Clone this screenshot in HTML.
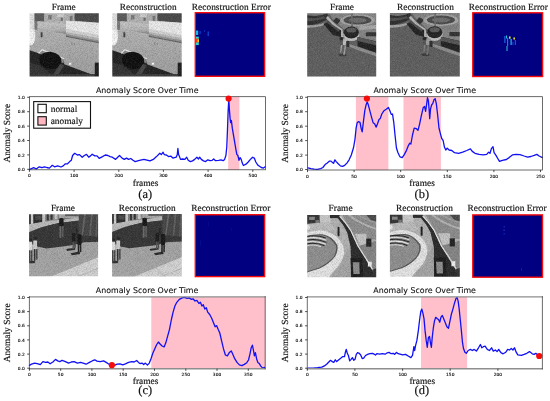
<!DOCTYPE html>
<html><head><meta charset="utf-8"><title>Anomaly score figure</title>
<style>html,body{margin:0;padding:0;background:#fff}svg{display:block}text{text-rendering:geometricPrecision;stroke:#111;stroke-width:1.6px}.s{font-family:'Liberation Serif','Times New Roman',serif;font-size:94px;fill:#111}.t{font-family:'DejaVu Sans','Liberation Sans',sans-serif;font-size:79px;fill:#111;stroke-width:1px}.k{font-family:'DejaVu Sans','Liberation Sans',sans-serif;font-size:44px;fill:#000;stroke-width:1.2px}.c{font-family:'Liberation Serif','Times New Roman',serif;font-size:125px;fill:#111}</style></head><body>
<svg width="550" height="401" viewBox="0 0 550 401">
<defs>
<filter id="soft" x="0" y="0" width="1" height="1"><feGaussianBlur stdDeviation="0.45"/></filter>
<filter id="soft2" x="0" y="0" width="1" height="1"><feGaussianBlur stdDeviation="0.7"/></filter>
<filter id="grain" x="0" y="0" width="1" height="1"><feTurbulence type="fractalNoise" baseFrequency="0.9" numOctaves="2" seed="3"/><feColorMatrix type="matrix" values="0 0 0 0 0  0 0 0 0 0  0 0 0 0 0  1.6 0 0 0 -0.55"/></filter>
<filter id="grainw" x="0" y="0" width="1" height="1"><feTurbulence type="fractalNoise" baseFrequency="0.8" numOctaves="2" seed="8"/><feColorMatrix type="matrix" values="0 0 0 0 1  0 0 0 0 1  0 0 0 0 1  1.6 0 0 0 -0.55"/></filter>
</defs>
<rect width="550" height="401" fill="#fff"/>
<text class="s" transform="translate(63.75,9.75) rotate(0.03) scale(0.1)" text-anchor="middle">Frame</text>
<text class="s" transform="translate(148.20,9.75) rotate(0.03) scale(0.1)" text-anchor="middle">Reconstruction</text>
<text class="s" transform="translate(231.40,9.75) rotate(0.03) scale(0.1)" text-anchor="middle">Reconstruction Error</text>
<clipPath id="cl29_13"><rect x="29.6" y="13.2" width="69.2" height="63.4"/></clipPath>
<g clip-path="url(#cl29_13)"><g transform="translate(29.6,13.2) scale(0.6920,0.6340)">
<g filter="url(#soft)">

<linearGradient id="ga" x1="0" y1="0" x2="0" y2="1"><stop offset="0.2" stop-color="#b6b6b6"/><stop offset="1" stop-color="#9e9e9e"/></linearGradient>
<rect x="-5" y="-5" width="110" height="110" fill="url(#ga)"/>
<rect x="-5" y="-5" width="13" height="45" fill="#e6e6e6"/>
<rect x="7" y="-5" width="15" height="18" fill="#5c5c5c"/>
<rect x="7" y="12" width="4.500" height="14" fill="#7a7a7a"/>
<rect x="21" y="-5" width="45" height="18.500" fill="#b4b4b4"/>
<rect x="27" y="3" width="5" height="7" fill="#7c7c7c"/><rect x="40" y="1" width="10" height="5" fill="#d0d0d0"/><rect x="45" y="7" width="3" height="5" fill="#6a6a6a"/><rect x="58" y="4" width="4" height="8" fill="#777"/>
<polygon points="65,-5 105,-5 105,15.500 65,12" fill="#4a4a4a"/>
<linearGradient id="wb" x1="0" y1="0" x2="0" y2="1"><stop offset="0" stop-color="#cccccc"/><stop offset="0.7" stop-color="#b4b4b4"/><stop offset="1" stop-color="#7c7c7c"/></linearGradient>
<polygon points="11.500,12.500 53,17 53,33 11.500,24.500" fill="url(#wb)"/>
<linearGradient id="wa" x1="0" y1="0" x2="0" y2="1"><stop offset="0" stop-color="#f0f0f0"/><stop offset="0.55" stop-color="#dadada"/><stop offset="0.85" stop-color="#999"/><stop offset="1" stop-color="#5e5e5e"/></linearGradient>
<polygon points="52.600,12 105,15.500 105,48 52.600,37" fill="#ececec"/><polygon points="52.600,25 105,35 105,48 52.600,37" fill="#000" opacity="0.1"/><polygon points="52.600,29.500 105,40 105,48 52.600,37" fill="#000" opacity="0.14"/><polygon points="52.600,33 105,44 105,48 52.600,37" fill="#000" opacity="0.2"/><polygon points="52.600,35.500 105,46.500 105,48.500 52.600,37.500" fill="#000" opacity="0.3"/>
<ellipse cx="2" cy="38" rx="6" ry="13" fill="#f6f6f6"/>
<rect x="16" y="30" width="2.600" height="8" fill="#3a3a3a"/>
<polygon points="-5,56.500 13,63 48,71.500 50,80.500 89,96.200 105,97 105,105 -5,105" fill="#222"/>
<polygon points="13,63 17.600,57 48,70 49,79" fill="#8c8c8c"/>
<polyline points="13,63.500 18,57.500 50,72" fill="none" stroke="#ececec" stroke-width="1.700"/>
<path d="M14,72 Q16,61 30,61 Q46,64 46,76 Q44,88 30,88 Q14,86 14,72Z" fill="#0a0a0a"/>
<polygon points="-5,76 14,82 36,100 -5,105" fill="#333"/>
<polygon points="44,80 50,82 40,100 32,100" fill="#444"/>
<rect x="-5" y="96" width="110" height="9" fill="#3a3a3a"/>
<rect x="57" y="78" width="3.200" height="3.200" fill="#fafafa"/>
<rect x="94.200" y="78" width="11" height="22" fill="#1c1c1c"/>
<rect x="60" y="46" width="2" height="4" fill="#8a8a8a"/><rect x="64" y="47" width="1.600" height="3" fill="#8a8a8a"/>

</g>
<rect x="0" y="0" width="100" height="100" filter="url(#grain)" opacity="0.2"/>
<rect x="0" y="0" width="100" height="100" filter="url(#grainw)" opacity="0.12"/>
</g></g>
<clipPath id="cl112_13"><rect x="112.3" y="13.2" width="69.4" height="63.4"/></clipPath>
<g clip-path="url(#cl112_13)"><g transform="translate(112.3,13.2) scale(0.6940,0.6340)">
<g filter="url(#soft2)">

<linearGradient id="ga" x1="0" y1="0" x2="0" y2="1"><stop offset="0.2" stop-color="#b6b6b6"/><stop offset="1" stop-color="#9e9e9e"/></linearGradient>
<rect x="-5" y="-5" width="110" height="110" fill="url(#ga)"/>
<rect x="-5" y="-5" width="13" height="45" fill="#e6e6e6"/>
<rect x="7" y="-5" width="15" height="18" fill="#5c5c5c"/>
<rect x="7" y="12" width="4.500" height="14" fill="#7a7a7a"/>
<rect x="21" y="-5" width="45" height="18.500" fill="#b4b4b4"/>
<rect x="27" y="3" width="5" height="7" fill="#7c7c7c"/><rect x="40" y="1" width="10" height="5" fill="#d0d0d0"/><rect x="45" y="7" width="3" height="5" fill="#6a6a6a"/><rect x="58" y="4" width="4" height="8" fill="#777"/>
<polygon points="65,-5 105,-5 105,15.500 65,12" fill="#4a4a4a"/>
<linearGradient id="wb" x1="0" y1="0" x2="0" y2="1"><stop offset="0" stop-color="#cccccc"/><stop offset="0.7" stop-color="#b4b4b4"/><stop offset="1" stop-color="#7c7c7c"/></linearGradient>
<polygon points="11.500,12.500 53,17 53,33 11.500,24.500" fill="url(#wb)"/>
<linearGradient id="wa" x1="0" y1="0" x2="0" y2="1"><stop offset="0" stop-color="#f0f0f0"/><stop offset="0.55" stop-color="#dadada"/><stop offset="0.85" stop-color="#999"/><stop offset="1" stop-color="#5e5e5e"/></linearGradient>
<polygon points="52.600,12 105,15.500 105,48 52.600,37" fill="#ececec"/><polygon points="52.600,25 105,35 105,48 52.600,37" fill="#000" opacity="0.1"/><polygon points="52.600,29.500 105,40 105,48 52.600,37" fill="#000" opacity="0.14"/><polygon points="52.600,33 105,44 105,48 52.600,37" fill="#000" opacity="0.2"/><polygon points="52.600,35.500 105,46.500 105,48.500 52.600,37.500" fill="#000" opacity="0.3"/>
<ellipse cx="2" cy="38" rx="6" ry="13" fill="#f6f6f6"/>
<rect x="16" y="30" width="2.600" height="8" fill="#3a3a3a"/>
<polygon points="-5,56.500 13,63 48,71.500 50,80.500 89,96.200 105,97 105,105 -5,105" fill="#222"/>
<polygon points="13,63 17.600,57 48,70 49,79" fill="#8c8c8c"/>
<polyline points="13,63.500 18,57.500 50,72" fill="none" stroke="#ececec" stroke-width="1.700"/>
<path d="M14,72 Q16,61 30,61 Q46,64 46,76 Q44,88 30,88 Q14,86 14,72Z" fill="#0a0a0a"/>
<polygon points="-5,76 14,82 36,100 -5,105" fill="#333"/>
<polygon points="44,80 50,82 40,100 32,100" fill="#444"/>
<rect x="-5" y="96" width="110" height="9" fill="#3a3a3a"/>
<rect x="57" y="78" width="3.200" height="3.200" fill="#fafafa"/>
<rect x="94.200" y="78" width="11" height="22" fill="#1c1c1c"/>
<rect x="60" y="46" width="2" height="4" fill="#8a8a8a"/><rect x="64" y="47" width="1.600" height="3" fill="#8a8a8a"/>

</g>
<rect x="0" y="0" width="100" height="100" filter="url(#grain)" opacity="0.2"/>
<rect x="0" y="0" width="100" height="100" filter="url(#grainw)" opacity="0.12"/>
</g></g>
<rect x="195.30" y="12.70" width="69.30" height="63.60" fill="#000080" stroke="#fa0a0a" stroke-width="1.4"/>
<g filter="url(#soft)"><rect x="196" y="30.5" width="2.2" height="4.5" fill="#19b8e6"/><rect x="195.8" y="36.6" width="3" height="8.5" fill="#29d9c8"/><rect x="196" y="38.5" width="2.4" height="4" fill="#ff3010"/><rect x="197.6" y="39.5" width="1.2" height="2.5" fill="#ffe020"/><rect x="199.5" y="31" width="1.2" height="3" fill="#1040d0"/><rect x="207.5" y="31.5" width="1.5" height="4.5" fill="#1038c8"/><rect x="204" y="30" width="1" height="2" fill="#0c28b0"/></g>
<rect x="29.4" y="96.7" width="236.1" height="73.10000000000001" fill="#fff"/>
<rect x="228.2" y="96.7" width="11.2" height="73.10000000000001" fill="#ffc0cb"/>
<polyline points="29.4,169.6 31.5,168.6 33.7,167.7 36.3,169.0 39.2,166.8 42.0,167.7 44.6,166.8 46.8,167.5 49.4,168.1 52.3,165.3 54.5,166.8 57.7,165.9 61.0,167.0 63.2,165.9 65.4,163.8 67.5,163.8 69.7,161.6 71.3,160.3 72.6,155.5 74.7,153.3 77.4,155.0 79.5,154.6 82.2,157.2 84.3,155.5 86.5,154.4 88.7,157.2 90.5,155.9 92.2,154.2 94.8,155.9 97.0,155.9 99.2,158.3 102.5,156.6 105.3,155.0 107.9,155.5 110.1,156.6 112.3,157.2 115.6,159.4 117.7,157.2 119.5,155.5 122.1,158.1 124.3,159.4 126.5,158.1 128.6,159.4 130.8,158.5 133.0,160.3 135.2,161.6 138.5,160.7 141.7,159.8 143.9,159.4 150.0,160.9 153.3,159.4 156.5,156.6 159.8,153.3 161.3,154.6 163.1,152.2 164.2,154.6 166.4,155.0 168.5,156.6 170.7,156.1 172.9,158.1 176.2,157.2 177.3,154.4 177.9,148.5 178.6,154.4 179.5,156.6 180.5,159.4 182.7,159.0 184.9,159.4 186.7,157.2 188.2,160.3 190.4,161.6 192.5,160.9 194.7,159.4 196.9,157.2 198.4,159.0 199.7,157.2 201.3,159.4 203.5,160.9 205.6,161.6 207.8,159.8 210.0,160.7 212.2,160.3 213.7,159.0 215.5,160.7 218.7,160.3 220.9,159.8 223.1,160.7 224.6,159.4 225.9,155.5 226.8,146.7 227.5,129.3 228.1,111.8 228.8,99.2 229.4,109.6 230.1,118.4 230.7,122.7 231.4,120.5 232.3,128.2 233.4,134.7 234.7,142.4 235.8,148.9 236.8,154.4 237.9,155.5 239.0,160.3 240.1,157.6 241.2,159.4 242.3,163.1 243.4,165.5 246.0,164.2 248.2,162.0 250.4,159.4 252.6,157.2 254.3,158.1 255.8,162.0 258.0,165.3 261.3,167.5 263.5,168.1 265.2,166.8" fill="none" stroke="#1010f5" stroke-width="1.3" stroke-linejoin="round" stroke-linecap="round"/>
<rect x="29.4" y="96.7" width="236.1" height="73.10000000000001" fill="none" stroke="#3a3a3a" stroke-width="0.75"/>
<line x1="27.2" y1="169.3" x2="29.4" y2="169.3" stroke="#222" stroke-width="0.8"/>
<text class="k" transform="translate(24.70,171.00) rotate(0.03) scale(0.1)" text-anchor="end">0.0</text>
<line x1="27.2" y1="154.9" x2="29.4" y2="154.9" stroke="#222" stroke-width="0.8"/>
<text class="k" transform="translate(24.70,156.60) rotate(0.03) scale(0.1)" text-anchor="end">0.2</text>
<line x1="27.2" y1="140.5" x2="29.4" y2="140.5" stroke="#222" stroke-width="0.8"/>
<text class="k" transform="translate(24.70,142.20) rotate(0.03) scale(0.1)" text-anchor="end">0.4</text>
<line x1="27.2" y1="126.1" x2="29.4" y2="126.1" stroke="#222" stroke-width="0.8"/>
<text class="k" transform="translate(24.70,127.80) rotate(0.03) scale(0.1)" text-anchor="end">0.6</text>
<line x1="27.2" y1="111.7" x2="29.4" y2="111.7" stroke="#222" stroke-width="0.8"/>
<text class="k" transform="translate(24.70,113.40) rotate(0.03) scale(0.1)" text-anchor="end">0.8</text>
<line x1="27.2" y1="97.3" x2="29.4" y2="97.3" stroke="#222" stroke-width="0.8"/>
<text class="k" transform="translate(24.70,99.00) rotate(0.03) scale(0.1)" text-anchor="end">1.0</text>
<line x1="29.4" y1="169.8" x2="29.4" y2="171.9" stroke="#222" stroke-width="0.8"/>
<text class="k" transform="translate(29.40,177.45) rotate(0.03) scale(0.1)" text-anchor="middle">0</text>
<line x1="74.1" y1="169.8" x2="74.1" y2="171.9" stroke="#222" stroke-width="0.8"/>
<text class="k" transform="translate(74.08,177.45) rotate(0.03) scale(0.1)" text-anchor="middle">100</text>
<line x1="118.8" y1="169.8" x2="118.8" y2="171.9" stroke="#222" stroke-width="0.8"/>
<text class="k" transform="translate(118.76,177.45) rotate(0.03) scale(0.1)" text-anchor="middle">200</text>
<line x1="163.4" y1="169.8" x2="163.4" y2="171.9" stroke="#222" stroke-width="0.8"/>
<text class="k" transform="translate(163.44,177.45) rotate(0.03) scale(0.1)" text-anchor="middle">300</text>
<line x1="208.1" y1="169.8" x2="208.1" y2="171.9" stroke="#222" stroke-width="0.8"/>
<text class="k" transform="translate(208.12,177.45) rotate(0.03) scale(0.1)" text-anchor="middle">400</text>
<line x1="252.8" y1="169.8" x2="252.8" y2="171.9" stroke="#222" stroke-width="0.8"/>
<text class="k" transform="translate(252.80,177.45) rotate(0.03) scale(0.1)" text-anchor="middle">500</text>
<text class="t" transform="translate(147.25,92.90) rotate(0.03) scale(0.1)" text-anchor="middle">Anomaly Score Over Time</text>
<text class="s" transform="translate(145.65,186.30) rotate(0.03) scale(0.1)" text-anchor="middle">frames</text>
<text class="c" transform="translate(145.20,197.70) rotate(0.03) scale(0.1)" text-anchor="middle">(a)</text>
<text class="s" transform="translate(10.00,133.25) rotate(-90) scale(0.1)" text-anchor="middle">Anomaly Score</text>
<rect x="33.7" y="101.6" width="56.8" height="26.6" fill="#fff" stroke="#111" stroke-width="1.1"/>
<rect x="37.9" y="104.3" width="8.4" height="8.4" fill="#fff" stroke="#111" stroke-width="1.1"/>
<rect x="37.9" y="116.7" width="8.4" height="8.4" fill="#ffb6c1" stroke="#111" stroke-width="1.1"/>
<text class="s" transform="translate(50.70,111.80) rotate(0.03) scale(0.1)" text-anchor="start">normal</text>
<text class="s" transform="translate(50.70,123.90) rotate(0.03) scale(0.1)" text-anchor="start">anomaly</text>
<circle cx="228.6" cy="98.6" r="3.1" fill="#f40c0c"/>
<text class="s" transform="translate(341.95,9.55) rotate(0.03) scale(0.1)" text-anchor="middle">Frame</text>
<text class="s" transform="translate(425.40,9.55) rotate(0.03) scale(0.1)" text-anchor="middle">Reconstruction</text>
<text class="s" transform="translate(508.40,9.55) rotate(0.03) scale(0.1)" text-anchor="middle">Reconstruction Error</text>
<clipPath id="cl307_13"><rect x="307.2" y="13.2" width="69" height="63.4"/></clipPath>
<g clip-path="url(#cl307_13)"><g transform="translate(307.2,13.2) scale(0.6900,0.6340)">
<g filter="url(#soft)">

<rect x="-5" y="-5" width="110" height="110" fill="#5e5e5e"/>
<polygon points="28,-5 105,-5 105,45 74,38 52,24 36,8" fill="#858585"/>
<polygon points="-5,-5 34,-5 30,6 -5,8" fill="#777"/>
<path d="M-5,2 Q15,8 29,0 L32,7 Q18,19 -5,19 Z" fill="#2e2e2e"/>
<path d="M-5,6 Q12,10 24,5 L26,8 Q12,14 -5,12 Z" fill="#505050"/>
<path d="M-5,19 Q14,20 25,15 L26,18 Q14,24 -5,23 Z" fill="#a4a4a4"/>
<polygon points="23.600,17 33,11 49,25 49,38 37,34" fill="#222"/>
<polygon points="23.600,17 33,11 49,25 45,29 29,15" fill="#505050"/>
<path d="M30,4 Q38,17 51,25 L53,38 L49,38 L49,27 Q36,19 27,8 Z" fill="#b6b6b6"/>
<rect x="39" y="8" width="8" height="8" rx="2" fill="#333" transform="rotate(35 43 12)"/>
<ellipse cx="73" cy="11" rx="25" ry="9.500" fill="#a6a6a6"/>
<ellipse cx="73" cy="11" rx="20" ry="7" fill="#4c4c4c"/>
<ellipse cx="73" cy="11" rx="13" ry="4" fill="#6c6c6c"/>
<path d="M74,21 L105,18 L105,24 L76,27 Z" fill="#a8a8a8"/>
<rect x="63.600" y="-5" width="2.400" height="28" fill="#6a6a6a"/>
<ellipse cx="64" cy="34" rx="11.500" ry="10" fill="#c6c6c6"/>
<ellipse cx="64" cy="30.500" rx="10.900" ry="9.500" fill="#202020"/>
<ellipse cx="64" cy="26.500" rx="7.500" ry="4" fill="#5a5a5a"/>
<rect x="85" y="30" width="20" height="6.500" rx="1.500" fill="#303030"/>
<polygon points="73,37.500 105,46 105,64 73,52" fill="#222"/>
<polygon points="73,37.500 105,46 105,52 73,44" fill="#555"/>
<path d="M57,47 L73,53 L105,65 L105,70 L73,58 L59,52 Z" fill="#8e8e8e"/>
<ellipse cx="51" cy="66" rx="6" ry="2" fill="#3c3c3c"/>
<rect x="51.500" y="40" width="7" height="10.500" rx="2" fill="#bdbdbd"/>
<rect x="56.500" y="44" width="4.500" height="9.500" rx="1" fill="#2e2e2e"/>
<ellipse cx="49.500" cy="40.500" rx="2.800" ry="3" fill="#262626"/>
<rect x="47" y="43" width="4" height="8" fill="#555"/>
<polygon points="48.800,50 51,50 49.300,62 47.600,62" fill="#a8a8a8"/>
<polygon points="54.300,51 56.600,51 54.300,66 52.300,66" fill="#a0a0a0"/>

</g>
<rect x="0" y="0" width="100" height="100" filter="url(#grain)" opacity="0.2"/>
<rect x="0" y="0" width="100" height="100" filter="url(#grainw)" opacity="0.12"/>
</g></g>
<clipPath id="cl389_13"><rect x="389.9" y="13" width="69.9" height="63.4"/></clipPath>
<g clip-path="url(#cl389_13)"><g transform="translate(389.9,13) scale(0.6990,0.6340)">
<g filter="url(#soft2)">

<rect x="-5" y="-5" width="110" height="110" fill="#5e5e5e"/>
<polygon points="28,-5 105,-5 105,45 74,38 52,24 36,8" fill="#858585"/>
<polygon points="-5,-5 34,-5 30,6 -5,8" fill="#777"/>
<path d="M-5,2 Q15,8 29,0 L32,7 Q18,19 -5,19 Z" fill="#2e2e2e"/>
<path d="M-5,6 Q12,10 24,5 L26,8 Q12,14 -5,12 Z" fill="#505050"/>
<path d="M-5,19 Q14,20 25,15 L26,18 Q14,24 -5,23 Z" fill="#a4a4a4"/>
<polygon points="23.600,17 33,11 49,25 49,38 37,34" fill="#222"/>
<polygon points="23.600,17 33,11 49,25 45,29 29,15" fill="#505050"/>
<path d="M30,4 Q38,17 51,25 L53,38 L49,38 L49,27 Q36,19 27,8 Z" fill="#b6b6b6"/>
<rect x="39" y="8" width="8" height="8" rx="2" fill="#333" transform="rotate(35 43 12)"/>
<ellipse cx="73" cy="11" rx="25" ry="9.500" fill="#a6a6a6"/>
<ellipse cx="73" cy="11" rx="20" ry="7" fill="#4c4c4c"/>
<ellipse cx="73" cy="11" rx="13" ry="4" fill="#6c6c6c"/>
<path d="M74,21 L105,18 L105,24 L76,27 Z" fill="#808080"/>
<rect x="63.600" y="-5" width="2.400" height="28" fill="#6a6a6a"/>
<ellipse cx="64" cy="34" rx="11.500" ry="10" fill="#c6c6c6"/>
<ellipse cx="64" cy="30.500" rx="10.900" ry="9.500" fill="#202020"/>
<ellipse cx="64" cy="26.500" rx="7.500" ry="4" fill="#5a5a5a"/>
<rect x="85" y="30" width="20" height="6.500" rx="1.500" fill="#303030"/>
<polygon points="73,37.500 105,46 105,64 73,52" fill="#222"/>
<polygon points="73,37.500 105,46 105,52 73,44" fill="#555"/>
<path d="M57,47 L73,53 L105,65 L105,70 L73,58 L59,52 Z" fill="#8e8e8e"/>
<ellipse cx="51" cy="66" rx="6" ry="2" fill="#3c3c3c"/>
<rect x="51.500" y="40" width="7" height="10.500" rx="2" fill="#9a9a9a"/>
<rect x="56.500" y="44" width="4.500" height="9.500" rx="1" fill="#2e2e2e"/>
<ellipse cx="49.500" cy="40.500" rx="2.800" ry="3" fill="#262626"/>
<rect x="47" y="43" width="4" height="8" fill="#555"/>
<polygon points="48.800,50 51,50 49.300,62 47.600,62" fill="#808080"/>
<polygon points="54.300,51 56.600,51 54.300,66 52.300,66" fill="#7a7a7a"/>

</g>
<rect x="0" y="0" width="100" height="100" filter="url(#grain)" opacity="0.2"/>
<rect x="0" y="0" width="100" height="100" filter="url(#grainw)" opacity="0.12"/>
</g></g>
<rect x="472.80" y="12.80" width="69.80" height="63.70" fill="#000080" stroke="#fa0a0a" stroke-width="1.4"/>
<g filter="url(#soft)"><rect x="504.3" y="36" width="1.2" height="7" fill="#1a6ae0"/><rect x="506" y="35.5" width="1" height="3" fill="#20c0e0"/><rect x="507" y="38" width="1.2" height="8" fill="#1a78e8"/><rect x="509" y="36.5" width="1.6" height="2.2" fill="#d8e830"/><rect x="510.5" y="39" width="1.2" height="6" fill="#28b8e0"/><rect x="513.4" y="37.5" width="1.6" height="2" fill="#e8e020"/><rect x="514.8" y="40" width="1" height="5" fill="#1a68e0"/><rect x="506.5" y="46" width="1" height="5" fill="#30c8d0"/><rect x="512.5" y="42" width="0.9" height="3" fill="#1850d0"/></g>
<rect x="307.4" y="96.7" width="235.0" height="73.3" fill="#fff"/>
<rect x="355.9" y="96.7" width="32.5" height="73.3" fill="#ffc0cb"/>
<rect x="403.5" y="96.7" width="37.4" height="73.3" fill="#ffc0cb"/>
<polyline points="307.9,167.9 310.9,168.6 314.2,169.2 317.5,169.4 320.7,168.6 322.9,167.5 325.1,164.6 327.3,162.9 329.5,161.1 331.0,161.1 332.3,162.4 333.6,163.3 334.9,159.8 336.2,161.6 338.2,163.8 340.4,165.9 342.5,166.4 344.7,165.3 346.9,163.1 349.1,159.8 351.3,155.0 353.5,147.8 355.0,139.1 356.1,128.2 357.2,122.7 358.5,121.6 360.0,122.3 361.1,128.2 362.2,131.9 363.3,122.7 364.8,110.7 366.1,104.8 367.2,102.0 368.3,104.8 369.8,110.7 371.6,117.3 373.1,122.7 374.6,123.8 376.2,127.1 377.5,123.8 379.0,119.5 380.3,118.4 381.8,114.0 384.0,110.7 386.2,109.2 388.4,107.5 389.9,110.7 391.2,114.4 392.5,114.0 393.8,122.7 395.1,135.8 396.4,147.8 397.8,152.2 399.3,155.5 400.0,156.8 402.2,157.6 404.1,154.9 406.0,151.4 408.2,145.9 409.8,143.2 410.9,144.0 412.5,135.0 414.2,128.2 416.4,128.7 418.0,130.4 419.6,124.1 421.3,115.9 423.2,107.7 424.5,106.4 425.6,111.3 426.7,103.6 427.5,97.6 428.4,100.9 429.2,110.5 429.7,118.6 430.5,109.1 431.6,105.0 432.7,103.6 434.1,99.5 435.2,98.7 436.3,103.6 437.6,114.5 439.0,128.2 440.4,133.6 441.7,138.5 443.1,140.4 444.5,147.3 445.8,150.0 447.2,148.1 449.1,150.0 451.8,150.5 454.5,152.7 458.6,153.3 462.7,152.2 466.8,150.5 470.4,148.9 472.3,151.4 475.0,153.3 479.1,154.4 483.2,154.9 486.7,154.4 488.6,152.2 490.0,153.3 491.4,148.6 493.0,146.7 494.1,152.7 496.0,155.4 497.6,158.2 499.5,161.4 502.3,160.4 506.4,159.5 509.1,157.6 512.4,154.9 515.9,154.4 520.0,154.6 524.1,156.0 527.6,157.1 530.9,156.5 534.2,155.4 536.9,154.4 539.1,156.0 542.4,157.6" fill="none" stroke="#1010f5" stroke-width="1.3" stroke-linejoin="round" stroke-linecap="round"/>
<rect x="307.4" y="96.7" width="235.0" height="73.3" fill="none" stroke="#3a3a3a" stroke-width="0.75"/>
<line x1="305.2" y1="169.5" x2="307.4" y2="169.5" stroke="#222" stroke-width="0.8"/>
<text class="k" transform="translate(302.70,171.20) rotate(0.03) scale(0.1)" text-anchor="end">0.0</text>
<line x1="305.2" y1="155.1" x2="307.4" y2="155.1" stroke="#222" stroke-width="0.8"/>
<text class="k" transform="translate(302.70,156.76) rotate(0.03) scale(0.1)" text-anchor="end">0.2</text>
<line x1="305.2" y1="140.6" x2="307.4" y2="140.6" stroke="#222" stroke-width="0.8"/>
<text class="k" transform="translate(302.70,142.32) rotate(0.03) scale(0.1)" text-anchor="end">0.4</text>
<line x1="305.2" y1="126.2" x2="307.4" y2="126.2" stroke="#222" stroke-width="0.8"/>
<text class="k" transform="translate(302.70,127.88) rotate(0.03) scale(0.1)" text-anchor="end">0.6</text>
<line x1="305.2" y1="111.7" x2="307.4" y2="111.7" stroke="#222" stroke-width="0.8"/>
<text class="k" transform="translate(302.70,113.44) rotate(0.03) scale(0.1)" text-anchor="end">0.8</text>
<line x1="305.2" y1="97.3" x2="307.4" y2="97.3" stroke="#222" stroke-width="0.8"/>
<text class="k" transform="translate(302.70,99.00) rotate(0.03) scale(0.1)" text-anchor="end">1.0</text>
<line x1="307.5" y1="170.0" x2="307.5" y2="172.1" stroke="#222" stroke-width="0.8"/>
<text class="k" transform="translate(307.50,177.65) rotate(0.03) scale(0.1)" text-anchor="middle">0</text>
<line x1="354.1" y1="170.0" x2="354.1" y2="172.1" stroke="#222" stroke-width="0.8"/>
<text class="k" transform="translate(354.10,177.65) rotate(0.03) scale(0.1)" text-anchor="middle">50</text>
<line x1="400.7" y1="170.0" x2="400.7" y2="172.1" stroke="#222" stroke-width="0.8"/>
<text class="k" transform="translate(400.70,177.65) rotate(0.03) scale(0.1)" text-anchor="middle">100</text>
<line x1="447.3" y1="170.0" x2="447.3" y2="172.1" stroke="#222" stroke-width="0.8"/>
<text class="k" transform="translate(447.30,177.65) rotate(0.03) scale(0.1)" text-anchor="middle">150</text>
<line x1="493.9" y1="170.0" x2="493.9" y2="172.1" stroke="#222" stroke-width="0.8"/>
<text class="k" transform="translate(493.90,177.65) rotate(0.03) scale(0.1)" text-anchor="middle">200</text>
<line x1="540.5" y1="170.0" x2="540.5" y2="172.1" stroke="#222" stroke-width="0.8"/>
<text class="k" transform="translate(540.50,177.65) rotate(0.03) scale(0.1)" text-anchor="middle">250</text>
<text class="t" transform="translate(424.70,92.90) rotate(0.03) scale(0.1)" text-anchor="middle">Anomaly Score Over Time</text>
<text class="s" transform="translate(422.05,186.30) rotate(0.03) scale(0.1)" text-anchor="middle">frames</text>
<text class="c" transform="translate(421.80,197.70) rotate(0.03) scale(0.1)" text-anchor="middle">(b)</text>
<text class="s" transform="translate(288.00,133.35) rotate(-90) scale(0.1)" text-anchor="middle">Anomaly Score</text>
<circle cx="366.9" cy="98.6" r="3.1" fill="#f40c0c"/>
<text class="s" transform="translate(62.90,211.45) rotate(0.03) scale(0.1)" text-anchor="middle">Frame</text>
<text class="s" transform="translate(147.30,211.45) rotate(0.03) scale(0.1)" text-anchor="middle">Reconstruction</text>
<text class="s" transform="translate(230.80,211.45) rotate(0.03) scale(0.1)" text-anchor="middle">Reconstruction Error</text>
<clipPath id="cl29_214"><rect x="29.1" y="214.3" width="69" height="62"/></clipPath>
<g clip-path="url(#cl29_214)"><g transform="translate(29.1,214.3) scale(0.6900,0.6200)">
<g filter="url(#soft)">

<rect x="-5" y="-5" width="110" height="110" fill="#a6a6a6"/>
<rect x="-5" y="-5" width="80" height="24" fill="#2a2a2a"/>
<rect x="2.500" y="-5" width="3.500" height="24" fill="#d4d4d4"/>
<rect x="9" y="2" width="9" height="7" fill="#4a4a4a"/>
<rect x="19" y="-5" width="4" height="20" fill="#cfcfcf"/>
<rect x="23" y="-5" width="20" height="17" fill="#8c8c8c"/>
<rect x="25.500" y="-5" width="3" height="15" fill="#333"/><rect x="31" y="-5" width="3" height="14" fill="#333"/><rect x="37" y="-5" width="4" height="13" fill="#c8c8c8"/>
<rect x="43" y="-5" width="30" height="12" fill="#a8a8a8"/>
<rect x="52" y="-5" width="20" height="8" fill="#5a5a5a"/>
<polygon points="-5,17 20,12 42,9 73,5 73,11 43,14 18,21 -5,31" fill="#bcbcbc"/>
<polygon points="-5,31 18,21 43,14 72,10 105,10 105,44 80,45 62,50 40,53 25,55 12,52 -5,44" fill="#363636"/>
<polygon points="72,-5 105,-5 105,36 72,34" fill="#444"/>
<polygon points="80,-5 83,-5 78,34 76,34" fill="#666"/><polygon points="90,-5 93,-5 89,35 87,35" fill="#606060"/><polygon points="98,-5 100,-5 98,36 96,36" fill="#5a5a5a"/>
<polygon points="22,105 105,67 105,105" fill="#d4d4d4"/>
<polyline points="60,105 105,85" fill="none" stroke="#b2b2b2" stroke-width="1"/><polyline points="62,84 78,105" fill="none" stroke="#b6b6b6" stroke-width="1"/>
<ellipse cx="3" cy="77" rx="6" ry="2" fill="#2e2e2e"/>
<rect x="-1" y="44" width="5.500" height="15" rx="2" fill="#e0e0e0"/><rect x="6" y="42" width="5.500" height="15" rx="2" fill="#d0d0d0"/>
<rect x="0" y="38" width="4" height="6" rx="2" fill="#262626"/><rect x="7" y="36" width="4" height="6" rx="2" fill="#262626"/>
<rect x="-0.500" y="58" width="2.200" height="19" fill="#333"/><rect x="2.500" y="58" width="2.200" height="18" fill="#444"/><rect x="7" y="56" width="2.200" height="19" fill="#333"/><rect x="10" y="56" width="2.200" height="17" fill="#4a4a4a"/>
<rect x="43.500" y="6" width="6.500" height="14" rx="2.500" fill="#181818"/>
<rect x="44" y="19" width="2.600" height="19" fill="#6a6a6a"/><rect x="47.500" y="19" width="2.600" height="18" fill="#5a5a5a"/>
<polygon points="54,56 66,54 67,57 55,59" fill="#2a2a2a"/><polygon points="60,63 73,60 74,64 62,66" fill="#2a2a2a"/>
<rect x="62" y="30" width="5.500" height="15" rx="2" fill="#1e1e1e"/><rect x="63" y="44" width="2" height="12" fill="#555"/><rect x="65.500" y="44" width="2" height="11" fill="#444"/>
<rect x="70" y="32" width="6" height="18" rx="2" fill="#181818"/><rect x="70.500" y="49" width="2.200" height="13" fill="#222"/><rect x="73.500" y="49" width="2.200" height="12" fill="#222"/>
<rect x="67.500" y="22" width="2.500" height="11" fill="#262626"/>

</g>
<rect x="0" y="0" width="100" height="100" filter="url(#grain)" opacity="0.2"/>
<rect x="0" y="0" width="100" height="100" filter="url(#grainw)" opacity="0.12"/>
</g></g>
<clipPath id="cl112_214"><rect x="112.1" y="214" width="69.7" height="62.4"/></clipPath>
<g clip-path="url(#cl112_214)"><g transform="translate(112.1,214) scale(0.6970,0.6240)">
<g filter="url(#soft2)">

<rect x="-5" y="-5" width="110" height="110" fill="#a6a6a6"/>
<rect x="-5" y="-5" width="80" height="24" fill="#2a2a2a"/>
<rect x="2.500" y="-5" width="3.500" height="24" fill="#d4d4d4"/>
<rect x="9" y="2" width="9" height="7" fill="#4a4a4a"/>
<rect x="19" y="-5" width="4" height="20" fill="#cfcfcf"/>
<rect x="23" y="-5" width="20" height="17" fill="#8c8c8c"/>
<rect x="25.500" y="-5" width="3" height="15" fill="#333"/><rect x="31" y="-5" width="3" height="14" fill="#333"/><rect x="37" y="-5" width="4" height="13" fill="#c8c8c8"/>
<rect x="43" y="-5" width="30" height="12" fill="#a8a8a8"/>
<rect x="52" y="-5" width="20" height="8" fill="#5a5a5a"/>
<polygon points="-5,17 20,12 42,9 73,5 73,11 43,14 18,21 -5,31" fill="#bcbcbc"/>
<polygon points="-5,31 18,21 43,14 72,10 105,10 105,44 80,45 62,50 40,53 25,55 12,52 -5,44" fill="#363636"/>
<polygon points="72,-5 105,-5 105,36 72,34" fill="#444"/>
<polygon points="80,-5 83,-5 78,34 76,34" fill="#666"/><polygon points="90,-5 93,-5 89,35 87,35" fill="#606060"/><polygon points="98,-5 100,-5 98,36 96,36" fill="#5a5a5a"/>
<polygon points="22,105 105,67 105,105" fill="#d4d4d4"/>
<polyline points="60,105 105,85" fill="none" stroke="#b2b2b2" stroke-width="1"/><polyline points="62,84 78,105" fill="none" stroke="#b6b6b6" stroke-width="1"/>
<ellipse cx="3" cy="77" rx="6" ry="2" fill="#2e2e2e"/>
<rect x="-1" y="44" width="5.500" height="15" rx="2" fill="#e0e0e0"/><rect x="6" y="42" width="5.500" height="15" rx="2" fill="#d0d0d0"/>
<rect x="0" y="38" width="4" height="6" rx="2" fill="#262626"/><rect x="7" y="36" width="4" height="6" rx="2" fill="#262626"/>
<rect x="-0.500" y="58" width="2.200" height="19" fill="#333"/><rect x="2.500" y="58" width="2.200" height="18" fill="#444"/><rect x="7" y="56" width="2.200" height="19" fill="#333"/><rect x="10" y="56" width="2.200" height="17" fill="#4a4a4a"/>
<rect x="43.500" y="6" width="6.500" height="14" rx="2.500" fill="#181818"/>
<rect x="44" y="19" width="2.600" height="19" fill="#6a6a6a"/><rect x="47.500" y="19" width="2.600" height="18" fill="#5a5a5a"/>
<polygon points="54,56 66,54 67,57 55,59" fill="#2a2a2a"/><polygon points="60,63 73,60 74,64 62,66" fill="#2a2a2a"/>
<rect x="62" y="30" width="5.500" height="15" rx="2" fill="#1e1e1e"/><rect x="63" y="44" width="2" height="12" fill="#555"/><rect x="65.500" y="44" width="2" height="11" fill="#444"/>
<rect x="70" y="32" width="6" height="18" rx="2" fill="#181818"/><rect x="70.500" y="49" width="2.200" height="13" fill="#222"/><rect x="73.500" y="49" width="2.200" height="12" fill="#222"/>
<rect x="67.500" y="22" width="2.500" height="11" fill="#262626"/>

</g>
<rect x="0" y="0" width="100" height="100" filter="url(#grain)" opacity="0.2"/>
<rect x="0" y="0" width="100" height="100" filter="url(#grainw)" opacity="0.12"/>
</g></g>
<rect x="195.30" y="214.70" width="69.30" height="61.90" fill="#000080" stroke="#fa0a0a" stroke-width="1.4"/>
<g opacity="0.5"><rect x="208" y="222" width="0.8" height="4" fill="#0a1aa8"/><rect x="231" y="228" width="0.8" height="3" fill="#0a1aa8"/><rect x="200" y="240" width="0.8" height="6" fill="#0a18a0"/></g>
<rect x="29.4" y="296.9" width="235.79999999999998" height="71.80000000000001" fill="#fff"/>
<rect x="151.3" y="296.9" width="114.0" height="71.80000000000001" fill="#ffc0cb"/>
<polyline points="29.4,365.3 31.5,364.2 34.8,363.1 38.1,363.8 40.3,364.6 42.9,361.6 45.7,362.4 47.9,362.0 50.1,363.8 52.9,362.0 55.5,359.4 57.7,360.9 59.9,361.6 62.1,360.3 65.4,361.6 68.6,363.1 71.3,362.0 74.1,361.6 77.4,363.1 80.6,362.4 83.9,363.3 86.1,364.2 89.4,362.4 92.6,360.7 94.8,359.8 97.0,361.1 100.3,361.6 103.6,360.9 106.2,362.4 109.0,364.2 111.8,365.3 114.5,365.3 117.1,364.2 119.9,363.8 122.8,364.8 125.4,363.8 128.6,362.4 131.9,361.6 134.1,362.0 136.7,360.5 138.5,362.4 140.0,363.6 142.0,363.1 143.7,364.6 145.4,363.1 147.4,365.1 149.3,363.1 151.0,358.7 152.8,353.3 154.7,348.9 156.7,344.5 158.4,342.0 160.1,344.0 162.1,346.0 164.1,346.9 165.8,342.8 167.5,336.6 169.5,329.3 171.4,319.5 173.1,312.1 174.9,306.0 176.8,302.3 179.3,299.3 182.2,297.9 184.7,297.4 187.1,298.3 189.1,297.9 191.1,299.3 193.0,298.8 195.0,301.0 196.9,300.3 198.9,303.5 200.4,302.3 201.9,306.0 203.3,304.7 204.8,309.1 206.3,307.7 207.7,312.1 209.7,314.5 211.7,318.2 213.6,323.1 215.1,326.8 216.6,325.6 218.1,329.3 219.8,333.0 221.5,340.3 223.5,348.9 225.4,355.0 227.4,355.8 229.3,352.6 231.3,350.9 232.8,354.3 234.7,358.7 237.0,362.4 239.4,364.9 241.9,365.6 244.3,364.4 246.8,362.7 248.5,360.0 250.0,353.8 251.2,347.7 252.4,345.2 253.4,350.1 254.4,355.8 255.4,352.6 256.6,358.7 257.8,362.4 259.3,363.6 260.8,366.1 262.7,368.1 264.7,367.3" fill="none" stroke="#1010f5" stroke-width="1.3" stroke-linejoin="round" stroke-linecap="round"/>
<path d="M29.0,296.9H265.59999999999997M29.0,368.7H265.59999999999997" fill="none" stroke="#8e8e8e" stroke-width="1.4"/>
<path d="M29.4,296.2V369.4M265.2,296.2V369.4" fill="none" stroke="#3a3a3a" stroke-width="0.75"/>
<line x1="27.2" y1="368.2" x2="29.4" y2="368.2" stroke="#222" stroke-width="0.8"/>
<text class="k" transform="translate(24.70,369.90) rotate(0.03) scale(0.1)" text-anchor="end">0.0</text>
<line x1="27.2" y1="354.1" x2="29.4" y2="354.1" stroke="#222" stroke-width="0.8"/>
<text class="k" transform="translate(24.70,355.76) rotate(0.03) scale(0.1)" text-anchor="end">0.2</text>
<line x1="27.2" y1="339.9" x2="29.4" y2="339.9" stroke="#222" stroke-width="0.8"/>
<text class="k" transform="translate(24.70,341.62) rotate(0.03) scale(0.1)" text-anchor="end">0.4</text>
<line x1="27.2" y1="325.8" x2="29.4" y2="325.8" stroke="#222" stroke-width="0.8"/>
<text class="k" transform="translate(24.70,327.48) rotate(0.03) scale(0.1)" text-anchor="end">0.6</text>
<line x1="27.2" y1="311.6" x2="29.4" y2="311.6" stroke="#222" stroke-width="0.8"/>
<text class="k" transform="translate(24.70,313.34) rotate(0.03) scale(0.1)" text-anchor="end">0.8</text>
<line x1="27.2" y1="297.5" x2="29.4" y2="297.5" stroke="#222" stroke-width="0.8"/>
<text class="k" transform="translate(24.70,299.20) rotate(0.03) scale(0.1)" text-anchor="end">1.0</text>
<line x1="29.4" y1="368.7" x2="29.4" y2="370.8" stroke="#222" stroke-width="0.8"/>
<text class="k" transform="translate(29.40,376.35) rotate(0.03) scale(0.1)" text-anchor="middle">0</text>
<line x1="60.7" y1="368.7" x2="60.7" y2="370.8" stroke="#222" stroke-width="0.8"/>
<text class="k" transform="translate(60.67,376.35) rotate(0.03) scale(0.1)" text-anchor="middle">50</text>
<line x1="91.9" y1="368.7" x2="91.9" y2="370.8" stroke="#222" stroke-width="0.8"/>
<text class="k" transform="translate(91.95,376.35) rotate(0.03) scale(0.1)" text-anchor="middle">100</text>
<line x1="123.2" y1="368.7" x2="123.2" y2="370.8" stroke="#222" stroke-width="0.8"/>
<text class="k" transform="translate(123.22,376.35) rotate(0.03) scale(0.1)" text-anchor="middle">150</text>
<line x1="154.5" y1="368.7" x2="154.5" y2="370.8" stroke="#222" stroke-width="0.8"/>
<text class="k" transform="translate(154.50,376.35) rotate(0.03) scale(0.1)" text-anchor="middle">200</text>
<line x1="185.8" y1="368.7" x2="185.8" y2="370.8" stroke="#222" stroke-width="0.8"/>
<text class="k" transform="translate(185.78,376.35) rotate(0.03) scale(0.1)" text-anchor="middle">250</text>
<line x1="217.0" y1="368.7" x2="217.0" y2="370.8" stroke="#222" stroke-width="0.8"/>
<text class="k" transform="translate(217.05,376.35) rotate(0.03) scale(0.1)" text-anchor="middle">300</text>
<line x1="248.3" y1="368.7" x2="248.3" y2="370.8" stroke="#222" stroke-width="0.8"/>
<text class="k" transform="translate(248.32,376.35) rotate(0.03) scale(0.1)" text-anchor="middle">350</text>
<text class="t" transform="translate(147.10,292.85) rotate(0.03) scale(0.1)" text-anchor="middle">Anomaly Score Over Time</text>
<text class="s" transform="translate(145.65,384.00) rotate(0.03) scale(0.1)" text-anchor="middle">frames</text>
<text class="c" transform="translate(145.30,394.20) rotate(0.03) scale(0.1)" text-anchor="middle">(c)</text>
<text class="s" transform="translate(10.00,332.80) rotate(-90) scale(0.1)" text-anchor="middle">Anomaly Score</text>
<circle cx="111.9" cy="365.2" r="3.1" fill="#f40c0c"/>
<text class="s" transform="translate(340.55,210.85) rotate(0.03) scale(0.1)" text-anchor="middle">Frame</text>
<text class="s" transform="translate(424.50,210.85) rotate(0.03) scale(0.1)" text-anchor="middle">Reconstruction</text>
<text class="s" transform="translate(507.10,210.85) rotate(0.03) scale(0.1)" text-anchor="middle">Reconstruction Error</text>
<clipPath id="cl307_215"><rect x="307.2" y="215" width="69" height="62.2"/></clipPath>
<g clip-path="url(#cl307_215)"><g transform="translate(307.2,215) scale(0.6900,0.6220)">
<g filter="url(#soft)">

<rect x="-5" y="-5" width="110" height="110" fill="#b4b4b4"/>
<polygon points="48,-5 105,-5 105,40 86,38 76,50 70,36 62,20 54,6" fill="#8e8e8e"/>
<polygon points="82,-5 105,-5 105,12 92,8" fill="#4a4a4a"/>
<path d="M56,-5 Q72,14 105,24" fill="none" stroke="#b4b4b4" stroke-width="3"/>
<path d="M68,-5 Q82,8 105,14" fill="none" stroke="#a0a0a0" stroke-width="2"/>
<path d="M54,6 Q64,26 76,50" fill="none" stroke="#9a9a9a" stroke-width="2"/>
<polygon points="69,30 86,30 86,50 76,50" fill="#c6c6c6"/>
<polygon points="74,50 105,40 105,84 96,92" fill="#868686"/>
<rect x="-5" y="-5" width="24" height="20" fill="#353535"/>
<rect x="3" y="3" width="8" height="5" fill="#8a8a8a"/><rect x="12" y="8" width="5" height="5" fill="#777"/>
<rect x="18" y="-5" width="16" height="17" fill="#cacaca"/>
<rect x="33" y="-5" width="14" height="10" fill="#2a2a2a"/>
<polygon points="-5,15 30,11 42,24 -5,32" fill="#bebebe"/>
<ellipse cx="0" cy="20" rx="4" ry="4" fill="#e8e8e8"/>
<path d="M-5,31 Q8,24 20,24.500 Q36,26 47,40 Q55,50 53,64 Q50,78 40,88 Q34,96 28,105 L-5,105 Z" fill="#e6e6e6"/>
<path d="M-5,35 Q10,30 22,31 Q35,33 43.600,48 Q46,60 38,70 Q30,80 18,86 L-5,94 Z" fill="#555"/>
<path d="M-5,36.500 Q10,31.500 21.500,32.500 Q33.500,34.500 41.500,49 Q43.500,60.500 36.500,69.500 Q28.500,78.500 17.500,84.500 L-5,92.500 Z" fill="#909090"/>
<g fill="none" stroke-width="1.700">
<path d="M-5,35.500 Q12,30.500 27,37" stroke="#222"/><path d="M-5,38.500 Q12,33.500 28,40.500" stroke="#f0f0f0"/>
<path d="M-5,41.500 Q12,36.500 28,44" stroke="#222"/><path d="M-5,44.500 Q12,39.500 27,47" stroke="#f0f0f0"/>
<path d="M-5,47.500 Q12,42.500 25,49.500" stroke="#222"/><path d="M-5,50.500 Q10,46 20,51" stroke="#ddd"/>
</g>
<polygon points="43.500,4 47,3 56,14 63,26 72.700,50 84,70 96,92 105,105 63,105 63,69 62.500,50 58,28 52,16" fill="#2a2a2a"/>
<polyline points="47,2 56,13.500 63.500,25.500 73.500,49.500 85,69.500 97,91.500 105,104" fill="none" stroke="#e8e8e8" stroke-width="1.600"/>
<polygon points="53,66 62.500,50 63,69 63,105 30,105 40,90 50,78" fill="#a6a6a6"/>
<rect x="44" y="19" width="2.800" height="15" rx="1" fill="#1e1e1e"/>
<rect x="85.500" y="38" width="7.500" height="13" fill="#242424"/>
<polygon points="62.700,69 80,69 81,100 64,100" fill="#1e1e1e"/>
<polygon points="66,76 75.500,76 76,95 67,95" fill="#8e8e8e"/>
<rect x="88" y="75" width="5.600" height="8" fill="#f0f0f0"/>
<polygon points="94,88 105,84 105,105 98,105" fill="#333"/>

</g>
<rect x="0" y="0" width="100" height="100" filter="url(#grain)" opacity="0.2"/>
<rect x="0" y="0" width="100" height="100" filter="url(#grainw)" opacity="0.12"/>
</g></g>
<clipPath id="cl389_214"><rect x="389.9" y="214.8" width="69.9" height="61.9"/></clipPath>
<g clip-path="url(#cl389_214)"><g transform="translate(389.9,214.8) scale(0.6990,0.6190)">
<g filter="url(#soft2)">

<rect x="-5" y="-5" width="110" height="110" fill="#b4b4b4"/>
<polygon points="48,-5 105,-5 105,40 86,38 76,50 70,36 62,20 54,6" fill="#8e8e8e"/>
<polygon points="82,-5 105,-5 105,12 92,8" fill="#4a4a4a"/>
<path d="M56,-5 Q72,14 105,24" fill="none" stroke="#b4b4b4" stroke-width="3"/>
<path d="M68,-5 Q82,8 105,14" fill="none" stroke="#a0a0a0" stroke-width="2"/>
<path d="M54,6 Q64,26 76,50" fill="none" stroke="#9a9a9a" stroke-width="2"/>
<polygon points="69,30 86,30 86,50 76,50" fill="#c6c6c6"/>
<polygon points="74,50 105,40 105,84 96,92" fill="#868686"/>
<rect x="-5" y="-5" width="24" height="20" fill="#353535"/>
<rect x="3" y="3" width="8" height="5" fill="#8a8a8a"/><rect x="12" y="8" width="5" height="5" fill="#777"/>
<rect x="18" y="-5" width="16" height="17" fill="#cacaca"/>
<rect x="33" y="-5" width="14" height="10" fill="#2a2a2a"/>
<polygon points="-5,15 30,11 42,24 -5,32" fill="#bebebe"/>
<ellipse cx="0" cy="20" rx="4" ry="4" fill="#e8e8e8"/>
<path d="M-5,31 Q8,24 20,24.500 Q36,26 47,40 Q55,50 53,64 Q50,78 40,88 Q34,96 28,105 L-5,105 Z" fill="#e6e6e6"/>
<path d="M-5,35 Q10,30 22,31 Q35,33 43.600,48 Q46,60 38,70 Q30,80 18,86 L-5,94 Z" fill="#555"/>
<path d="M-5,36.500 Q10,31.500 21.500,32.500 Q33.500,34.500 41.500,49 Q43.500,60.500 36.500,69.500 Q28.500,78.500 17.500,84.500 L-5,92.500 Z" fill="#909090"/>
<g fill="none" stroke-width="1.700">
<path d="M-5,35.500 Q12,30.500 27,37" stroke="#222"/><path d="M-5,38.500 Q12,33.500 28,40.500" stroke="#f0f0f0"/>
<path d="M-5,41.500 Q12,36.500 28,44" stroke="#222"/><path d="M-5,44.500 Q12,39.500 27,47" stroke="#f0f0f0"/>
<path d="M-5,47.500 Q12,42.500 25,49.500" stroke="#222"/><path d="M-5,50.500 Q10,46 20,51" stroke="#ddd"/>
</g>
<polygon points="43.500,4 47,3 56,14 63,26 72.700,50 84,70 96,92 105,105 63,105 63,69 62.500,50 58,28 52,16" fill="#2a2a2a"/>
<polyline points="47,2 56,13.500 63.500,25.500 73.500,49.500 85,69.500 97,91.500 105,104" fill="none" stroke="#e8e8e8" stroke-width="1.600"/>
<polygon points="53,66 62.500,50 63,69 63,105 30,105 40,90 50,78" fill="#a6a6a6"/>
<rect x="44" y="19" width="2.800" height="15" rx="1" fill="#1e1e1e"/>
<rect x="85.500" y="38" width="7.500" height="13" fill="#242424"/>
<polygon points="62.700,69 80,69 81,100 64,100" fill="#1e1e1e"/>
<polygon points="66,76 75.500,76 76,95 67,95" fill="#8e8e8e"/>
<rect x="88" y="75" width="5.600" height="8" fill="#f0f0f0"/>
<polygon points="94,88 105,84 105,105 98,105" fill="#333"/>

</g>
<rect x="0" y="0" width="100" height="100" filter="url(#grain)" opacity="0.2"/>
<rect x="0" y="0" width="100" height="100" filter="url(#grainw)" opacity="0.12"/>
</g></g>
<rect x="472.80" y="214.90" width="69.70" height="62.30" fill="#000080" stroke="#fa0a0a" stroke-width="1.4"/>
<g opacity="0.8"><rect x="503.6" y="226" width="1.2" height="1.5" fill="#1838c8"/><rect x="503.4" y="229.5" width="1.4" height="1.5" fill="#1838c8"/><rect x="503.6" y="233" width="1.2" height="1.5" fill="#1430c0"/><rect x="521" y="268" width="1" height="3" fill="#0c20b0"/></g>
<rect x="307.3" y="296.9" width="235.09999999999997" height="71.80000000000001" fill="#fff"/>
<rect x="421" y="296.9" width="46.1" height="71.80000000000001" fill="#ffc0cb"/>
<polyline points="307.9,368.1 313.1,368.1 317.5,367.7 321.8,367.2 324.4,365.9 326.6,364.2 328.8,362.0 330.5,360.3 332.3,361.6 333.8,362.4 335.3,359.8 336.7,361.6 338.8,359.8 341.0,358.1 342.8,356.6 344.5,356.6 345.4,352.2 346.3,349.3 347.3,353.3 348.4,355.5 349.7,360.9 351.1,359.4 352.4,357.6 353.7,360.3 355.0,359.4 356.3,354.4 357.6,352.6 359.3,353.3 360.7,355.0 362.2,358.5 363.7,358.1 365.5,355.5 367.6,354.4 369.8,353.7 372.4,353.3 374.2,354.2 375.5,355.0 376.8,353.7 379.6,354.2 382.5,353.7 385.1,354.2 387.3,352.8 389.0,352.4 391.2,353.7 393.4,353.3 394.7,354.4 396.4,352.4 398.2,353.7 400.0,354.1 402.7,354.9 405.5,354.4 408.2,356.0 410.9,357.6 412.5,355.4 413.9,346.7 414.7,350.5 415.5,345.9 416.9,340.4 418.3,330.9 419.6,320.0 420.7,311.8 421.8,309.1 422.9,313.2 424.0,318.6 425.1,330.9 426.2,340.4 427.3,347.3 428.4,337.7 429.5,336.4 430.5,343.2 431.4,347.3 432.2,337.7 433.3,328.2 434.4,321.4 435.7,317.3 437.1,318.6 438.5,319.5 439.8,322.2 440.9,317.3 442.3,315.4 443.6,318.6 445.3,322.7 446.9,326.8 448.5,328.2 449.9,321.4 451.3,314.5 452.9,309.1 454.5,303.1 455.9,298.7 457.0,297.4 458.1,300.9 459.2,309.1 460.3,320.0 461.4,330.9 462.4,341.8 463.5,348.6 464.9,352.2 466.3,353.3 468.2,350.5 470.4,349.4 472.3,350.5 474.2,349.4 476.4,351.1 478.5,347.8 480.4,344.5 481.8,347.8 483.4,346.7 485.1,346.2 487.3,349.4 489.4,350.5 491.6,347.8 493.3,351.1 495.4,350.0 497.1,351.6 498.7,349.4 500.9,352.7 503.1,353.8 505.8,352.2 507.7,349.4 509.6,350.0 511.3,348.4 512.9,350.0 514.5,347.8 516.2,352.2 517.8,354.9 521.4,355.4 524.1,354.4 526.8,353.3 529.5,351.6 532.3,353.8 534.2,354.4 535.8,353.3 537.7,354.9 539.1,356.0" fill="none" stroke="#1010f5" stroke-width="1.3" stroke-linejoin="round" stroke-linecap="round"/>
<path d="M306.90000000000003,296.9H542.8M306.90000000000003,368.7H542.8" fill="none" stroke="#8e8e8e" stroke-width="1.4"/>
<path d="M307.3,296.2V369.4M542.4,296.2V369.4" fill="none" stroke="#3a3a3a" stroke-width="0.75"/>
<line x1="305.1" y1="368.2" x2="307.3" y2="368.2" stroke="#222" stroke-width="0.8"/>
<text class="k" transform="translate(302.60,369.90) rotate(0.03) scale(0.1)" text-anchor="end">0.0</text>
<line x1="305.1" y1="354.1" x2="307.3" y2="354.1" stroke="#222" stroke-width="0.8"/>
<text class="k" transform="translate(302.60,355.76) rotate(0.03) scale(0.1)" text-anchor="end">0.2</text>
<line x1="305.1" y1="339.9" x2="307.3" y2="339.9" stroke="#222" stroke-width="0.8"/>
<text class="k" transform="translate(302.60,341.62) rotate(0.03) scale(0.1)" text-anchor="end">0.4</text>
<line x1="305.1" y1="325.8" x2="307.3" y2="325.8" stroke="#222" stroke-width="0.8"/>
<text class="k" transform="translate(302.60,327.48) rotate(0.03) scale(0.1)" text-anchor="end">0.6</text>
<line x1="305.1" y1="311.6" x2="307.3" y2="311.6" stroke="#222" stroke-width="0.8"/>
<text class="k" transform="translate(302.60,313.34) rotate(0.03) scale(0.1)" text-anchor="end">0.8</text>
<line x1="305.1" y1="297.5" x2="307.3" y2="297.5" stroke="#222" stroke-width="0.8"/>
<text class="k" transform="translate(302.60,299.20) rotate(0.03) scale(0.1)" text-anchor="end">1.0</text>
<line x1="307.3" y1="368.7" x2="307.3" y2="370.8" stroke="#222" stroke-width="0.8"/>
<text class="k" transform="translate(307.30,376.35) rotate(0.03) scale(0.1)" text-anchor="middle">0</text>
<line x1="354.9" y1="368.7" x2="354.9" y2="370.8" stroke="#222" stroke-width="0.8"/>
<text class="k" transform="translate(354.95,376.35) rotate(0.03) scale(0.1)" text-anchor="middle">50</text>
<line x1="402.6" y1="368.7" x2="402.6" y2="370.8" stroke="#222" stroke-width="0.8"/>
<text class="k" transform="translate(402.60,376.35) rotate(0.03) scale(0.1)" text-anchor="middle">100</text>
<line x1="450.2" y1="368.7" x2="450.2" y2="370.8" stroke="#222" stroke-width="0.8"/>
<text class="k" transform="translate(450.25,376.35) rotate(0.03) scale(0.1)" text-anchor="middle">150</text>
<line x1="497.9" y1="368.7" x2="497.9" y2="370.8" stroke="#222" stroke-width="0.8"/>
<text class="k" transform="translate(497.90,376.35) rotate(0.03) scale(0.1)" text-anchor="middle">200</text>
<text class="t" transform="translate(424.65,292.85) rotate(0.03) scale(0.1)" text-anchor="middle">Anomaly Score Over Time</text>
<text class="s" transform="translate(422.25,383.80) rotate(0.03) scale(0.1)" text-anchor="middle">frames</text>
<text class="c" transform="translate(421.80,394.40) rotate(0.03) scale(0.1)" text-anchor="middle">(d)</text>
<text class="s" transform="translate(287.90,332.80) rotate(-90) scale(0.1)" text-anchor="middle">Anomaly Score</text>
<circle cx="539.2" cy="356" r="3.1" fill="#f40c0c"/>
</svg></body></html>
